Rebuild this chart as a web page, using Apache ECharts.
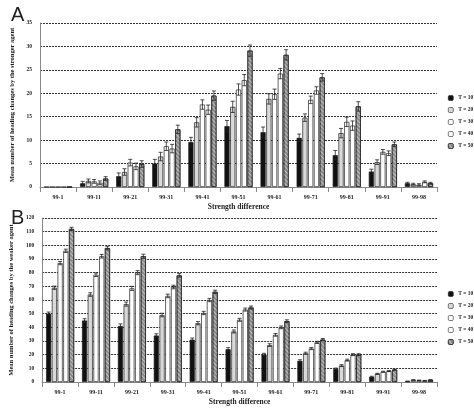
<!DOCTYPE html><html><head><meta charset="utf-8"><script src="https://cdn.jsdelivr.net/npm/echarts@6/dist/echarts.min.js"></script>
<style>html,body{margin:0;background:#fff}#c{width:474px;height:412px}</style></head><body><div id="c"></div><script>
var categories=['99-1','99-11','99-21','99-31','99-41','99-51','99-61','99-71','99-81','99-91','99-98'];
var seriesNames=['T = 10','T = 20','T = 30','T = 40','T = 50'];
var A_T10=[0,0.8,2.3,5,9.6,13,11.7,10.5,6.8,3.3,0.8];
var A_T20=[0,1.3,3.2,6.5,13.8,17.1,18.8,14.8,11.5,5.3,0.6];
var A_T30=[0,1.2,5.2,8.7,17.6,20.8,19.8,18.6,13.9,7.5,0.5];
var A_T40=[0,0.9,4.4,8.2,16.5,22.8,24.2,20.6,13.1,7.2,1.1];
var A_T50=[0,1.8,4.9,12.3,19.5,29.1,28.2,23.4,17.2,9.1,0.8];
var A_err=[0.3,0.4,0.7,0.9,1.0,1.2,1.1,0.8,1.0,0.5,0.2];
var B_T10=[50,45,41,34,31,24,20,15.5,9.5,3.8,0.5];
var B_T20=[69,64,57,49,43,37,27,21,12,6,1.5];
var B_T30=[87,78.5,68.5,63,50.5,45.5,34.5,24.5,16,7.5,1.2];
var B_T40=[96,92,80,69.5,60,53,40,29,20,8,1];
var B_T50=[112,98,92,78,66,54.5,44.5,31,20,9,1.5];
var B_err=[1.2,1.3,1.5,1.3,1.2,1.1,1.0,0.8,0.7,0.4,0.2];
var colors=['#111','#d9d9d9','#ffffff','#ffffff','#8a8a8a'];
var font='Liberation Serif';
var catGap=0.22, barGapR=0.12;
function errSeries(data,idx,ax,err){
  return {type:'custom',xAxisIndex:ax,yAxisIndex:ax,z:5,silent:true,
    data:data.map(function(v,i){return [i,v,err[i]];}),
    renderItem:function(p,api){
      var i=api.value(0),v=api.value(1),e=api.value(2);
      if(v===0) return;
      var band=api.size([1,0])[0];var gw=band*(1-catGap);var w=gw/(5+4*barGapR);
      var c=api.coord([i,v]);var x=c[0]-gw/2+w/2+idx*(w*(1+barGapR));
      var t=api.coord([i,v+e])[1],b=api.coord([i,Math.max(0,v-e)])[1];var h=2;
      var st={stroke:'#222',lineWidth:0.8};
      return {type:'group',children:[
        {type:'line',shape:{x1:x,y1:t,x2:x,y2:b},style:st},
        {type:'line',shape:{x1:x-h,y1:t,x2:x+h,y2:t},style:st},
        {type:'line',shape:{x1:x-h,y1:b,x2:x+h,y2:b},style:st}]};
    }};
}
var dataA=[A_T10,A_T20,A_T30,A_T40,A_T50],dataB=[B_T10,B_T20,B_T30,B_T40,B_T50];
var series=[];
[dataA,dataB].forEach(function(d,ax){
  d.forEach(function(arr,k){
    var is={color:colors[k],borderColor:'#222',borderWidth:0.7};
    if(k==4) is.decal={symbol:'rect',symbolSize:1,dashArrayX:[1,0],dashArrayY:[1,2],rotation:0.785,color:'rgba(255,255,255,0.45)'};
    series.push({type:'bar',name:seriesNames[k],xAxisIndex:ax,yAxisIndex:ax,data:arr,
      barCategoryGap:(catGap*100)+'%',barGap:(barGapR*100)+'%',itemStyle:is});
  });
  d.forEach(function(arr,k){series.push(errSeries(arr,k,ax,ax?B_err:A_err));});
});
function xAx(i){return {type:'category',gridIndex:i,data:categories,
  axisLine:{lineStyle:{color:'#888'}},axisTick:{show:true,lineStyle:{color:'#888'}},
  axisLabel:{fontFamily:font,fontWeight:'bold',fontSize:6,color:'#222',margin:7},
  name:'Strength difference',nameLocation:'middle',nameGap:16,
  nameTextStyle:{fontFamily:font,fontWeight:'bold',fontSize:7.5,color:'#222'}};}
function yAx(i,max,iv,nm){return {type:'value',gridIndex:i,min:0,max:max,interval:iv,
  axisLine:{show:true,lineStyle:{color:'#888'}},
  splitLine:{lineStyle:{color:'#333',type:[2,1],width:1}},
  axisLabel:{fontFamily:font,fontWeight:'bold',fontSize:5.5,color:'#222',margin:8},
  name:nm,nameLocation:'middle',nameGap:20,
  nameTextStyle:{fontFamily:font,fontWeight:'bold',fontSize:6.5,color:'#222'}};}
var chart=echarts.init(document.getElementById('c'));
chart.setOption({animation:false,backgroundColor:'#fff',
  title:[{text:'A',left:6,top:0,textStyle:{fontFamily:'Liberation Sans',fontWeight:'normal',fontSize:20,color:'#222'}},
         {text:'B',left:6,top:203,textStyle:{fontFamily:'Liberation Sans',fontWeight:'normal',fontSize:20,color:'#222'}}],
  legend:[{orient:'vertical',left:443,top:90,itemWidth:5,itemHeight:5,itemGap:6,data:seriesNames,
     textStyle:{fontFamily:font,fontWeight:'bold',fontSize:5.5,color:'#222'},itemStyle:{borderColor:'#222',borderWidth:0.6}},
    {orient:'vertical',left:443,top:286,itemWidth:5,itemHeight:5,itemGap:6,data:seriesNames,
     textStyle:{fontFamily:font,fontWeight:'bold',fontSize:5.5,color:'#222'},itemStyle:{borderColor:'#222',borderWidth:0.6}}],
  grid:[{left:40,right:37,top:23,height:164},{left:40,right:37,top:218,height:164}],
  xAxis:[xAx(0),xAx(1)],
  yAxis:[yAx(0,35,5,'Mean number of heading changes by the stronger agent'),yAx(1,120,10,'Mean number of heading changes by the weaker agent')],
  series:series});
</script></body></html>
